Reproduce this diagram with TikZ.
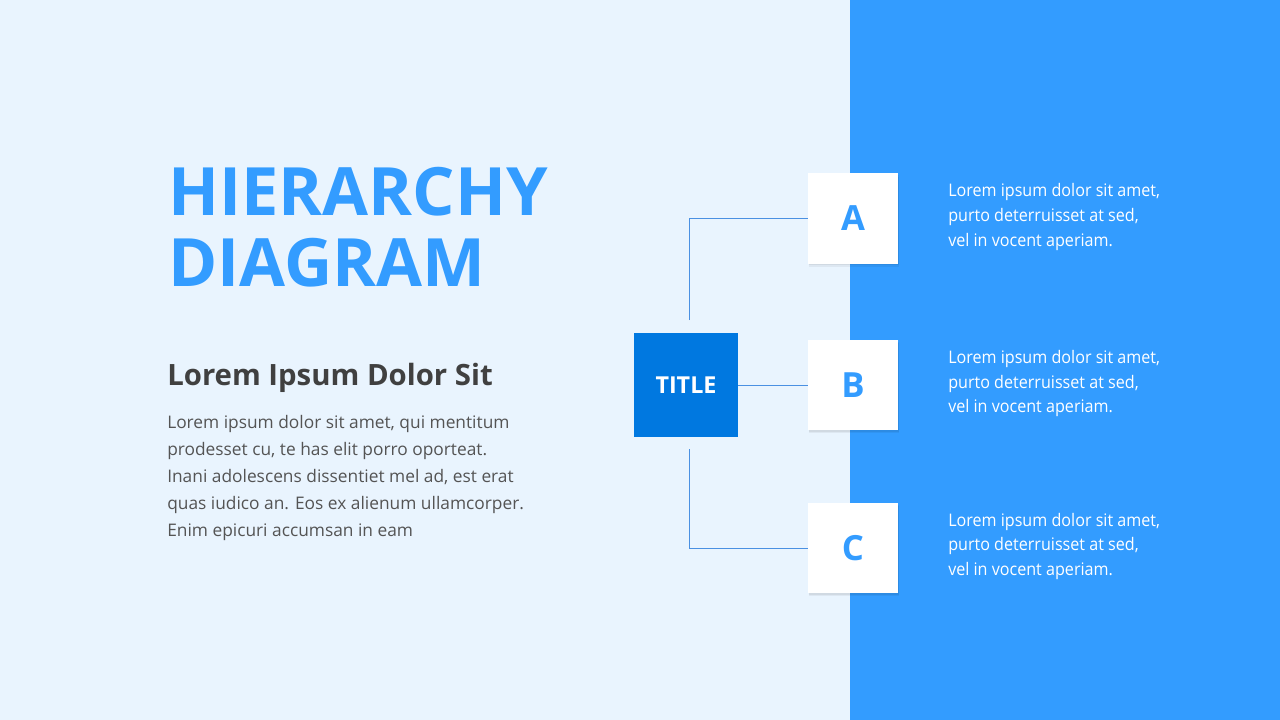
\documentclass[tikz,border=0pt]{standalone}
\usepackage{fontspec}
\setmainfont{Open Sans}
\newfontfamily\narrowfont[FakeStretch=0.93]{Open Sans}
\usetikzlibrary{shadows}
\begin{document}
\begin{tikzpicture}[x=0.75pt,y=-0.75pt]
            \definecolor{bg_color}{RGB}{233,244,254}
            \definecolor{panel_color}{RGB}{51,156,255}
            \definecolor{title_color}{RGB}{0,120,224}
            \definecolor{line_color}{RGB}{74,144,226}
            \definecolor{head_color}{RGB}{64,64,64}
            \definecolor{body_color}{RGB}{84,84,84}
            \tikzstyle{root} = [fill=title_color, minimum size=78pt, inner sep=0, text=white, font=\bfseries\fontsize{17.5}{18}\selectfont]
            \tikzstyle{leaf} = [fill=white, minimum size=67.5pt, inner sep=0, text=panel_color, font=\bfseries\fontsize{26}{26}\selectfont,
                                drop shadow={shadow xshift=1pt, shadow yshift=-2.5pt, opacity=0.05, fill=black},
                                drop shadow={shadow xshift=0.5pt, shadow yshift=-1.2pt, opacity=0.06, fill=black}]
            \tikzstyle{ann} = [anchor=base west, inner sep=0]
            \tikzstyle{note} = [ann, text=white, font=\narrowfont\fontsize{13}{13}\selectfont]
            \tikzstyle{link} = [line_color, line width=0.75pt]
            % background and side panel
            \fill[bg_color] (0,0) rectangle (1280,720);
            \fill[panel_color] (850,0) rectangle (1280,720);
            \useasboundingbox (0,0) rectangle (1280,720);
            % heading
            \node[ann, text=panel_color, font=\bfseries\fontsize{50}{50}\selectfont] (head1) at (168,215) {HIERARCHY};
            \node[ann, text=panel_color, font=\bfseries\fontsize{50}{50}\selectfont] (head2) at (168,286.5) {DIAGRAM};
            \node[ann, text=head_color, font=\bfseries\fontsize{22}{22}\selectfont] (sub) at (167,385.5) {Lorem Ipsum Dolor Sit};
            \foreach \i/\y/\t in {1/428/{Lorem ipsum dolor sit amet, qui mentitum},
                                  2/455/{prodesset cu, te has elit porro oporteat.},
                                  3/482/{Inani adolescens dissentiet mel ad, est erat},
                                  4/509/{quas iudico an. Eos ex alienum ullamcorper.},
                                  5/536/{Enim epicuri accumsan in eam}}
                \node[ann, text=body_color, font=\fontsize{13}{13}\selectfont] (body\i) at (167,\y) {\t};
            % hierarchy
            \node[root] (title) at (686,385) {TITLE};
            \node[leaf] (a) at (853,218.5) {A};
            \node[leaf] (b) at (853,385) {B};
            \node[leaf] (c) at (853,548) {C};
            \coordinate (up) at (689,320);
            \coordinate (down) at (689,449);
            \draw[link] (up) |- (a.west);
            \draw[link] (title.east) -- (b.west);
            \draw[link] (down) |- (c.west);
            % notes
            \foreach \n/\y in {a/197, b/363.3, c/526} {
                \node[note] (\n1) at (948,\y) {Lorem ipsum dolor sit amet,};
                \node[note] (\n2) at (948,\y+24.8) {purto deterruisset at sed,};
                \node[note] (\n3) at (948,\y+49.6) {vel in vocent aperiam.};
            }
        \end{tikzpicture}
\end{document}
